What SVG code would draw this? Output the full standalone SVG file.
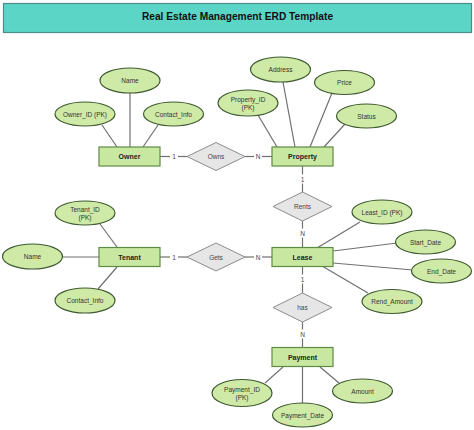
<svg xmlns="http://www.w3.org/2000/svg" width="474" height="430" viewBox="0 0 474 430">
<style>
.ent{fill:#c8e8a2;stroke:#5e8a44;stroke-width:1.2}
.att{fill:#cfeaa6;stroke:#3e5a30;stroke-width:1.2}
.rel{fill:#e6e6e6;stroke:#8c8c8c;stroke-width:1}
.ln{stroke:#707070;stroke-width:1.2;fill:none}
text{font-family:"Liberation Sans",Arial,sans-serif;text-anchor:middle;dominant-baseline:central}
.at{font-size:6.5px;fill:#333}
.et{font-size:7px;font-weight:bold;fill:#222}
.rt{font-size:6.5px;fill:#444}
.ct{font-size:6.5px;fill:#444}
</style>
<rect width="474" height="430" fill="#ffffff"/>
<g id="title">
<rect x="3.5" y="3.5" width="468" height="29" fill="#5bd5c5" stroke="#4d8c88" stroke-width="1.2"/>
<text x="237.5" y="16.5" style="font-size:10.2px;font-weight:bold;fill:#111">Real Estate Management ERD Template</text>
</g>
<g id="connectors">
<line class="ln" x1="130" y1="93" x2="130" y2="147"/>
<line class="ln" x1="102" y1="125" x2="117" y2="147"/>
<line class="ln" x1="158" y1="125" x2="143" y2="147"/>
<line class="ln" x1="160" y1="156.5" x2="187" y2="156.5"/>
<line class="ln" x1="245" y1="156.5" x2="272" y2="156.5"/>
<line class="ln" x1="283" y1="82" x2="295" y2="147"/>
<line class="ln" x1="332" y1="93" x2="310" y2="147"/>
<line class="ln" x1="258" y1="115" x2="277" y2="147"/>
<line class="ln" x1="345" y1="124" x2="324" y2="147"/>
<line class="ln" x1="302.5" y1="166" x2="302.5" y2="192"/>
<line class="ln" x1="302.5" y1="221" x2="302.5" y2="248"/>
<line class="ln" x1="360" y1="222" x2="317" y2="248"/>
<line class="ln" x1="333" y1="251" x2="397" y2="243"/>
<line class="ln" x1="333" y1="263" x2="413" y2="270"/>
<line class="ln" x1="322" y1="266" x2="368" y2="293"/>
<line class="ln" x1="302.5" y1="266" x2="302.5" y2="293"/>
<line class="ln" x1="302.5" y1="322" x2="302.5" y2="347"/>
<line class="ln" x1="265" y1="383" x2="283" y2="367"/>
<line class="ln" x1="302.5" y1="367" x2="302.5" y2="403"/>
<line class="ln" x1="339" y1="383" x2="320" y2="367"/>
<line class="ln" x1="100" y1="224" x2="117" y2="247"/>
<line class="ln" x1="62" y1="257" x2="99" y2="257"/>
<line class="ln" x1="98" y1="289" x2="117" y2="267"/>
<line class="ln" x1="160" y1="257" x2="187" y2="257"/>
<line class="ln" x1="245" y1="257" x2="272" y2="257"/>
<g>
<rect x="170" y="152" width="8" height="9" fill="#fff"/><text class="ct" x="174" y="156.5">1</text>
<rect x="254" y="152" width="8" height="9" fill="#fff"/><text class="ct" x="258" y="156.5">N</text>
<rect x="170" y="252.5" width="8" height="9" fill="#fff"/><text class="ct" x="174" y="257">1</text>
<rect x="254" y="252.5" width="8" height="9" fill="#fff"/><text class="ct" x="258" y="257">N</text>
<rect x="298.5" y="174.5" width="8" height="9" fill="#fff"/><text class="ct" x="302.5" y="179">1</text>
<rect x="298.5" y="228.5" width="8" height="9" fill="#fff"/><text class="ct" x="302.5" y="233">N</text>
<rect x="298.5" y="274.5" width="8" height="9" fill="#fff"/><text class="ct" x="302.5" y="279">1</text>
<rect x="298.5" y="329.5" width="8" height="9" fill="#fff"/><text class="ct" x="302.5" y="334">N</text>
</g>
</g>
<g id="owner"><rect class="ent" x="99" y="147" width="61" height="19"/><text class="et" x="129.5" y="156.5">Owner</text></g>
<g id="owner_name"><ellipse class="att" cx="130" cy="80.5" rx="30" ry="12.5"/><text class="at" x="130" y="80.5">Name</text></g>
<g id="owner_id"><ellipse class="att" cx="85" cy="114" rx="30" ry="12"/><text class="at" x="85" y="114">Owner_ID (PK)</text></g>
<g id="owner_contact"><ellipse class="att" cx="173.5" cy="114" rx="30" ry="12"/><text class="at" x="173.5" y="114">Contact_Info</text></g>
<g id="owns"><polygon class="rel" points="187,156.5 216,142.5 245,156.5 216,170.5"/><text class="rt" x="216" y="156.5">Owns</text></g>
<g id="property"><rect class="ent" x="272" y="147" width="61" height="19"/><text class="et" x="302.5" y="156.5">Property</text></g>
<g id="property_id"><ellipse class="att" cx="248" cy="103" rx="30" ry="13"/><text class="at" x="248" y="99">Property_ID</text><text class="at" x="248" y="107">(PK)</text></g>
<g id="address"><ellipse class="att" cx="280.5" cy="69.5" rx="30" ry="12.5"/><text class="at" x="280.5" y="69.5">Address</text></g>
<g id="price"><ellipse class="att" cx="344.5" cy="82.5" rx="30" ry="12"/><text class="at" x="344.5" y="82.5">Price</text></g>
<g id="status"><ellipse class="att" cx="366.5" cy="116" rx="30" ry="12"/><text class="at" x="366.5" y="116">Status</text></g>
<g id="rents"><polygon class="rel" points="273,206.5 302.5,192 332,206.5 302.5,221"/><text class="rt" x="302.5" y="206.5">Rents</text></g>
<g id="lease"><rect class="ent" x="272" y="247.5" width="61" height="19"/><text class="et" x="302.5" y="257">Lease</text></g>
<g id="lease_id"><ellipse class="att" cx="382" cy="212" rx="30" ry="12"/><text class="at" x="382" y="212">Least_ID (PK)</text></g>
<g id="start_date"><ellipse class="att" cx="425.5" cy="242" rx="30" ry="12"/><text class="at" x="425.5" y="242">Start_Date</text></g>
<g id="end_date"><ellipse class="att" cx="441.5" cy="271" rx="30" ry="12"/><text class="at" x="441.5" y="271">End_Date</text></g>
<g id="rent_amount"><ellipse class="att" cx="392" cy="301.5" rx="30" ry="12"/><text class="at" x="392" y="301.5">Rend_Amount</text></g>
<g id="has"><polygon class="rel" points="273,307.5 302.5,293 332,307.5 302.5,322"/><text class="rt" x="302.5" y="307.5">has</text></g>
<g id="payment"><rect class="ent" x="272" y="347.5" width="61" height="19"/><text class="et" x="302.5" y="357">Payment</text></g>
<g id="payment_id"><ellipse class="att" cx="242" cy="393" rx="30" ry="13.5"/><text class="at" x="242" y="389">Payment_ID</text><text class="at" x="242" y="397">(PK)</text></g>
<g id="payment_date"><ellipse class="att" cx="302.5" cy="415" rx="30" ry="12"/><text class="at" x="302.5" y="415">Payment_Date</text></g>
<g id="amount"><ellipse class="att" cx="362.5" cy="391" rx="30" ry="12"/><text class="at" x="362.5" y="391">Amount</text></g>
<g id="tenant"><rect class="ent" x="99" y="247.5" width="61" height="19"/><text class="et" x="129.5" y="257">Tenant</text></g>
<g id="tenant_id"><ellipse class="att" cx="85" cy="213" rx="30" ry="12"/><text class="at" x="85" y="209">Tenant_ID</text><text class="at" x="85" y="217">(PK)</text></g>
<g id="tenant_name"><ellipse class="att" cx="32.5" cy="256.5" rx="30" ry="12.5"/><text class="at" x="32.5" y="256.5">Name</text></g>
<g id="tenant_contact"><ellipse class="att" cx="85" cy="300.5" rx="30" ry="12.5"/><text class="at" x="85" y="300.5">Contact_Info</text></g>
<g id="gets"><polygon class="rel" points="187,257 216,243 245,257 216,271"/><text class="rt" x="216" y="257">Gets</text></g>
</svg>
